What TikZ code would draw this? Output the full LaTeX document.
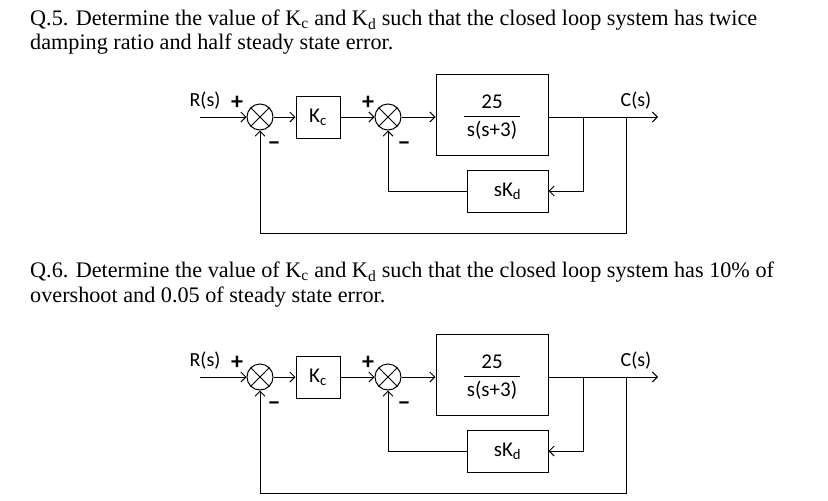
\documentclass[tikz,border=0pt]{standalone}
\usepackage{fontspec}
\setmainfont{Liberation Serif}
\newfontfamily\diag{Carlito}
\usetikzlibrary{arrows.meta}
\begin{document}
\begin{tikzpicture}[x=1pt,y=-1pt,
  blk/.style={draw,line width=1pt,inner sep=0pt,font=\diag\fontsize{21}{23}\selectfont},
  sum/.style={draw,line width=1pt,circle,minimum size=26pt,inner sep=0pt,path picture={
     \draw[line width=1pt] (path picture bounding box.north west)--(path picture bounding box.south east)
           (path picture bounding box.north east)--(path picture bounding box.south west);}},
  lbl/.style={font=\diag\fontsize{20}{22}\selectfont,inner sep=0pt},
  sgn/.style={font=\diag\bfseries\fontsize{24}{24}\selectfont,inner sep=0pt},
  wire/.style={line width=1pt},
  arr/.style={wire,-{Straight Barb[length=5pt,width=10pt]}},
  q/.style={font=\fontsize{22.2}{26}\selectfont,anchor=west,inner sep=0pt}]
\useasboundingbox (0,0) rectangle (828,501);
\node[q] (q5a) at (30,20) {Q.5. Determine the value of K\textsubscript{c} and K\textsubscript{d} such that the closed loop system has twice};
\node[q] (q5b) at (30,44) {damping ratio and half steady state error.};
\node[q] (q6a) at (30,272) {Q.6. Determine the value of K\textsubscript{c} and K\textsubscript{d} such that the closed loop system has 10\% of};
\node[q] (q6b) at (30,297) {overshoot and 0.05 of steady state error.};
\foreach \i/\dy in {a/0,b/260}{
\begin{scope}[yshift=-\dy]
  \coordinate (in\i) at (200,117);
  \node[sum] (s1\i) at (260,117) {};
  \node[blk,minimum width=44pt,minimum height=42pt] (kc\i) at (318,117) {K\textsubscript{c}};
  \node[sum] (s2\i) at (388,117) {};
  \node[blk,minimum width=112pt,minimum height=81pt] (g\i) at (492,114.5) {};
  \node[lbl,font=\diag\fontsize{21}{23}\selectfont] (num\i) at (492,102) {25};
  \node[lbl,font=\diag\fontsize{21}{23}\selectfont] (den\i) at (492,130) {s(s+3)};
  \draw[wire] (464,116) -- (520,116);
  \node[blk,minimum width=81pt,minimum height=42pt] (kd\i) at (507.5,191) {sK\textsubscript{d}};
  \coordinate (b1\i) at (583,117);
  \coordinate (b2\i) at (626,117);
  \coordinate (out\i) at (658,117);
  \draw[arr] (in\i) -- (s1\i);
  \draw[arr] (s1\i) -- (kc\i);
  \draw[arr] (kc\i) -- (s2\i);
  \draw[arr] (s2\i) -- (g\i.west |- s2\i);
  \draw[arr] (g\i.east |- b1\i) -- (out\i);
  \draw[arr] (b1\i) |- (kd\i.east);
  \draw[arr] (kd\i.west) -| (s2\i.south);
  \draw[arr] (b2\i) |- (260,233) -- (s1\i.south);
  \node[lbl] (r\i) at (205,101) {R(s)};
  \node[lbl] (c\i) at (636,101) {C(s)};
  \node[sgn] (p1\i) at (237,103) {+};
  \node[sgn] (m1\i) at (274,146) {\textminus};
  \node[sgn] (p2\i) at (368,103) {+};
  \node[sgn] (m2\i) at (404,146) {\textminus};
\end{scope}}
\end{tikzpicture}
\end{document}
